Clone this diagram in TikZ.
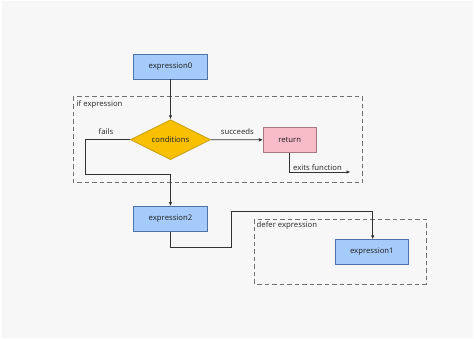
\documentclass[tikz,border=0pt]{standalone}
\usepackage{fontspec}
\setmainfont{Noto Sans}
\usetikzlibrary{shapes.geometric,arrows.meta}
\definecolor{bg}{HTML}{F7F7F7}
\definecolor{bluefill}{HTML}{A5CBFA}
\definecolor{blueline}{HTML}{4E73A6}
\definecolor{goldfill}{HTML}{F8C000}
\definecolor{goldline}{HTML}{C79E10}
\definecolor{pinkfill}{HTML}{F8BCC8}
\definecolor{pinkline}{HTML}{A87882}
\definecolor{wire}{HTML}{333333}
\definecolor{dashc}{HTML}{707070}
\begin{document}
\begin{tikzpicture}[x=1pt,y=-1pt,
  font=\fontsize{7.7}{9}\selectfont,
  bluebox/.style={draw=blueline,fill=bluefill,line width=0.8pt,minimum width=74pt,minimum height=25pt,inner sep=0pt,text=black!85},
  pinkbox/.style={draw=pinkline,fill=pinkfill,line width=0.8pt,minimum width=52.7pt,minimum height=25pt,inner sep=0pt,text=black!85},
  decision/.style={diamond,aspect=2,draw=goldline,fill=goldfill,line width=0.8pt,minimum width=80pt,minimum height=40pt,inner sep=0pt,text=black!85},
  group/.style={draw=dashc,dash pattern=on 4.5pt off 3pt,line width=0.8pt},
  conn/.style={draw=wire,line width=0.8pt,-{Latex[length=4pt,width=3.5pt]}},
  plain/.style={draw=wire,line width=0.8pt},
  lbl/.style={text=black!80,inner sep=0pt}
]
\useasboundingbox (0,0) rectangle (474,339);
\fill[white] (0,0) rectangle (474,339);
\fill[bg] (1.5,1.5) rectangle (472.5,337.5);
% groups
\draw[group] (73.3,96.7) rectangle (362.7,182.7);
\node[lbl,anchor=west] (iflbl) at (76.5,104) {if expression};
\draw[group] (254.3,219.3) rectangle (426,284);
\node[lbl,anchor=west] (deflbl) at (256.5,225.5) {defer expression};
% nodes
\node[bluebox] (e0) at (170.5,66.5) {expression0};
\node[decision] (cond) at (170.5,139.7) {conditions};
\node[pinkbox] (ret) at (289.7,139.8) {return};
\node[bluebox] (e2) at (170.5,219) {expression2};
\node[bluebox,minimum width=73pt,minimum height=24.7pt] (e1) at (371.8,251.7) {expression1};
\coordinate (exitend) at (350.5,172);
% connectors
\draw[conn] (e0) -- (cond);
\draw[conn] (cond) -- (ret);
\draw[conn] (cond.west) -- (85.7,139.7) -- (85.7,174.3) -- (170.5,174.3) -- (e2.north);
\draw[conn] (ret.south) -- (289.7,172) -- (exitend);
\draw[conn] (e2.south) -- (170.5,247) -- (231.7,247) -- (231.7,211.7) -- (372.7,211.7) -- (372.7,239.35);
% labels
\node[lbl] (fails) at (106,131.5) {fails};
\node[lbl] (succ) at (237.3,131.5) {succeeds};
\node[lbl] (exits) at (317.5,167.2) {exits function};
\end{tikzpicture}
\end{document}
